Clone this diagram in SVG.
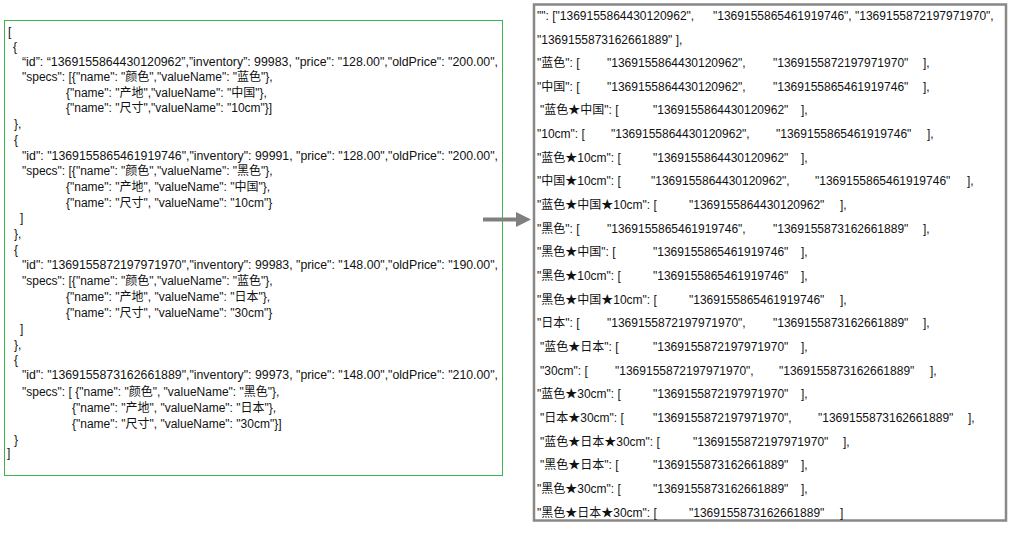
<svg xmlns="http://www.w3.org/2000/svg" width="1016" height="535" viewBox="0 0 1016 535">
<style>
text{font-family:"Liberation Sans","Noto Sans CJK SC",sans-serif;font-size:12px;fill:#111}
.l{font-size:11.5px}
</style>
<rect width="1016" height="535" fill="#fff"/>
<g id="source">
<rect x="4.5" y="20.5" width="498" height="455" fill="none" stroke="#3cb44b" stroke-width="1"/>
<g class="l">
<text x="8" y="36">[</text>
<text x="13" y="51">{</text>
<text x="22" y="66" textLength="476" lengthAdjust="spacingAndGlyphs">“id”: “1369155864430120962”,”inventory”: 99983, "price": "128.00","oldPrice": "200.00",</text>
<text x="22" y="81">"specs": [{"name": "颜色","valueName": "蓝色"},</text>
<text x="66" y="97">{"name": "产地","valueName": "中国"},</text>
<text x="66" y="112">{"name": "尺寸","valueName": "10cm"}]</text>
<text x="14" y="128">},</text>
<text x="14" y="144">{</text>
<text x="22" y="160" textLength="476" lengthAdjust="spacingAndGlyphs">"id": "1369155865461919746","inventory": 99991, "price": "128.00","oldPrice": "200.00",</text>
<text x="22" y="175">"specs": [{"name": "颜色","valueName": "黑色"},</text>
<text x="66" y="191">{"name": "产地", "valueName": "中国"},</text>
<text x="66" y="207">{"name": "尺寸", "valueName": "10cm"}</text>
<text x="20" y="222">]</text>
<text x="14" y="238">},</text>
<text x="14" y="254">{</text>
<text x="22" y="269" textLength="476" lengthAdjust="spacingAndGlyphs">"id": "1369155872197971970","inventory": 99983, "price": "148.00","oldPrice": "190.00",</text>
<text x="22" y="285">"specs": [{"name": "颜色","valueName": "蓝色"},</text>
<text x="66" y="301">{"name": "产地", "valueName": "日本"},</text>
<text x="66" y="317">{"name": "尺寸", "valueName": "30cm"}</text>
<text x="20" y="333">]</text>
<text x="14" y="349">},</text>
<text x="14" y="364">{</text>
<text x="22" y="379" textLength="476" lengthAdjust="spacingAndGlyphs">"id": "1369155873162661889","inventory": 99973, "price": "148.00","oldPrice": "210.00",</text>
<text x="22" y="396">"specs": [ {"name": "颜色", "valueName": "黑色"},</text>
<text x="72" y="412">{"name": "产地", "valueName": "日本"},</text>
<text x="72" y="428">{"name": "尺寸", "valueName": "30cm"}]</text>
<text x="14" y="444">}</text>
<text x="7" y="457">]</text>
</g>
</g>
<g id="connectors">
<path d="M483 219.5H518" stroke="#808080" stroke-width="4" fill="none"/>
<path d="M516 212L531 219.5L516 227Z" fill="#808080"/>
</g>
<g id="index">
<rect x="534" y="4.5" width="472" height="516" fill="none" stroke="#888" stroke-width="2.5"/>
<text y="20"><tspan x="537">"": ["1369155864430120962",</tspan><tspan x="713">"1369155865461919746",</tspan><tspan x="855">"1369155872197971970",</tspan></text>
<text y="44"><tspan x="537">"1369155873162661889" ],</tspan></text>
<text y="67"><tspan x="537">"蓝色": [</tspan><tspan x="607">"1369155864430120962",</tspan><tspan x="773">"1369155872197971970"</tspan><tspan x="923">],</tspan></text>
<text y="91"><tspan x="537">"中国": [</tspan><tspan x="607">"1369155864430120962",</tspan><tspan x="773">"1369155865461919746"</tspan><tspan x="923">],</tspan></text>
<text y="114"><tspan x="540">"蓝色★中国": [</tspan><tspan x="653">"1369155864430120962"</tspan><tspan x="801">],</tspan></text>
<text y="138"><tspan x="537">"10cm": [</tspan><tspan x="611">"1369155864430120962",</tspan><tspan x="776">"1369155865461919746"</tspan><tspan x="927">],</tspan></text>
<text y="162"><tspan x="537">"蓝色★10cm": [</tspan><tspan x="653">"1369155864430120962"</tspan><tspan x="801">],</tspan></text>
<text y="185"><tspan x="537">"中国★10cm": [</tspan><tspan x="651">"1369155864430120962",</tspan><tspan x="815">"1369155865461919746"</tspan><tspan x="967">],</tspan></text>
<text y="209"><tspan x="537">"蓝色★中国★10cm": [</tspan><tspan x="689">"1369155864430120962"</tspan><tspan x="840">],</tspan></text>
<text y="233"><tspan x="537">"黑色": [</tspan><tspan x="607">"1369155865461919746",</tspan><tspan x="773">"1369155873162661889"</tspan><tspan x="923">],</tspan></text>
<text y="256"><tspan x="537">"黑色★中国": [</tspan><tspan x="653">"1369155865461919746"</tspan><tspan x="801">],</tspan></text>
<text y="280"><tspan x="537">"黑色★10cm": [</tspan><tspan x="653">"1369155865461919746"</tspan><tspan x="801">],</tspan></text>
<text y="304"><tspan x="537">"黑色★中国★10cm": [</tspan><tspan x="689">"1369155865461919746"</tspan><tspan x="840">],</tspan></text>
<text y="327"><tspan x="537">"日本": [</tspan><tspan x="607">"1369155872197971970",</tspan><tspan x="773">"1369155873162661889"</tspan><tspan x="923">],</tspan></text>
<text y="351"><tspan x="540">"蓝色★日本": [</tspan><tspan x="653">"1369155872197971970"</tspan><tspan x="801">],</tspan></text>
<text y="375"><tspan x="540">"30cm": [</tspan><tspan x="615">"1369155872197971970",</tspan><tspan x="779">"1369155873162661889"</tspan><tspan x="930">],</tspan></text>
<text y="398"><tspan x="537">"蓝色★30cm": [</tspan><tspan x="653">"1369155872197971970"</tspan><tspan x="801">],</tspan></text>
<text y="422"><tspan x="540">"日本★30cm": [</tspan><tspan x="653">"1369155872197971970",</tspan><tspan x="818">"1369155873162661889"</tspan><tspan x="968">],</tspan></text>
<text y="446"><tspan x="540">"蓝色★日本★30cm": [</tspan><tspan x="693">"1369155872197971970"</tspan><tspan x="843">],</tspan></text>
<text y="469"><tspan x="540">"黑色★日本": [</tspan><tspan x="653">"1369155873162661889"</tspan><tspan x="801">],</tspan></text>
<text y="493"><tspan x="537">"黑色★30cm": [</tspan><tspan x="653">"1369155873162661889"</tspan><tspan x="801">],</tspan></text>
<text y="517"><tspan x="537">"黑色★日本★30cm": [</tspan><tspan x="689">"1369155873162661889"</tspan><tspan x="840">]</tspan></text>
</g>
</svg>
